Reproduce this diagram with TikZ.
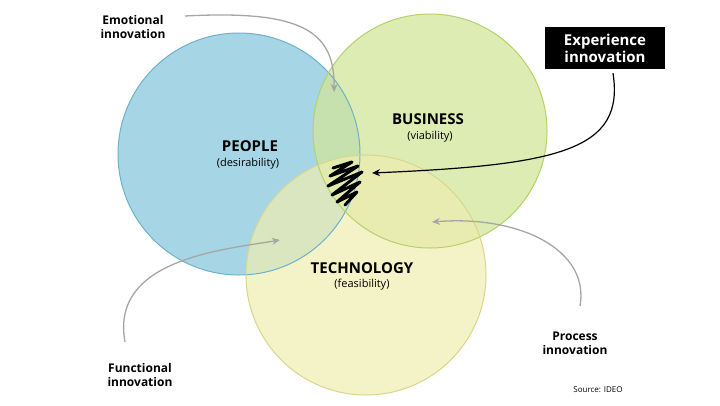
\documentclass[tikz,border=0pt]{standalone}
\usepackage{fontspec}
\setmainfont{Open Sans}
\usetikzlibrary{arrows.meta}
\begin{document}
\begin{tikzpicture}[x=1pt,y=-1pt,
  lbl/.style={font=\bfseries\fontsize{12}{14}\selectfont,align=center},
  big/.style={font=\bfseries\fontsize{15}{16}\selectfont},
  sub/.style={font=\fontsize{11}{13}\selectfont},
  garrow/.style={draw=gray!70,line width=1.3pt,-{Stealth[length=8pt,width=7pt]}}]
\useasboundingbox (0,0) rectangle (720,405);
\definecolor{pplfill}{HTML}{A6D6E6}\definecolor{pplline}{HTML}{6CB2CC}
\definecolor{busfill}{HTML}{D2E59A}\definecolor{busline}{HTML}{B6D06A}
\definecolor{tecfill}{HTML}{EFEEB0}\definecolor{tecline}{HTML}{D8D68C}
\fill[pplfill] (239,154) circle (121);
\fill[busfill,fill opacity=0.75] (430,131) circle (117);
\fill[tecfill,fill opacity=0.7] (366,275) circle (120);
\draw[pplline,line width=1pt] (239,154) circle (121);
\draw[busline,line width=1pt] (430,131) circle (117);
\draw[tecline,line width=1pt] (366,275) circle (120);
\node[big] (people) at (250,146) {PEOPLE};
\node[sub] (peoples) at (248,164) {(desirability)};
\node[big] (bus) at (428,119) {BUSINESS};
\node[sub] (buss) at (430,137) {(viability)};
\node[big] (tec) at (362,268) {TECHNOLOGY};
\node[sub] (tecs) at (362,285) {(feasibility)};
\draw[black,line width=3pt,line cap=round,line join=round]
 (333,168) -- (352,162) -- (330,176) -- (358,166) -- (328,186) -- (362,172) -- (332,195) -- (360,182) -- (337,202) -- (357,192) -- (345,205);
\node[lbl] (emo) at (133,27) {Emotional\\innovation};
\node[lbl] (fun) at (140,375) {Functional\\innovation};
\node[lbl] (pro) at (575,343) {Process\\innovation};
\node[fill=black,text=white,font=\bfseries\fontsize{15}{17}\selectfont,align=center,minimum width=120pt,minimum height=42pt,inner sep=0pt] (exp) at (605,48) {Experience\\innovation};
\node[font=\fontsize{8}{9}\selectfont] (src) at (598,390) {Source: IDEO};
\coordinate (ea) at (334,92);
\coordinate (fa) at (280,240);
\coordinate (pa) at (432,222);
\coordinate (xa) at (372,173);
\draw[garrow] (185,16) .. controls (300,10) and (335,30) .. (ea);
\draw[garrow] (125,342) .. controls (110,260) and (220,250) .. (fa);
\draw[garrow] (580,306) .. controls (590,250) and (520,215) .. (pa);
\draw[black,line width=1.2pt,-{Stealth[length=8pt,width=7pt]}] (exp.south) ++(8,4) .. controls (625,150) and (560,165) .. (xa);
\end{tikzpicture}
\end{document}
